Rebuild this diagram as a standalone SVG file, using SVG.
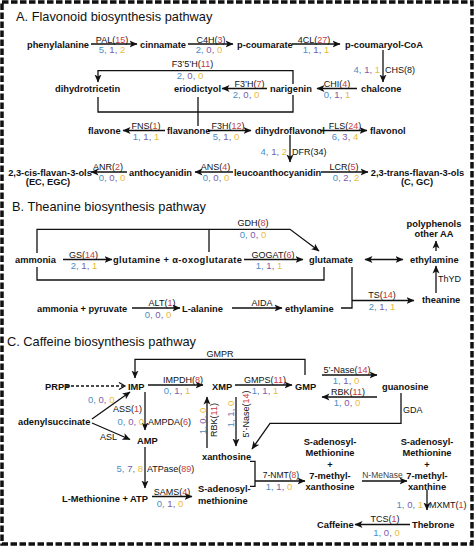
<svg xmlns="http://www.w3.org/2000/svg" width="474" height="548" viewBox="0 0 474 548">
<style>
text{font-family:"Liberation Sans",Arial,sans-serif;fill:#111}
.t{font-size:12.8px}
.n{font-size:9.3px;font-weight:bold}
.e{font-size:9px}
.c{font-size:9.5px}
.s{font-size:8.5px}
.g{fill:#444}
.m{text-anchor:middle}
.d{text-anchor:end}
.r{fill:#cc3a40}
.b{fill:#4a8fc4}
.p{fill:#7a5ca8}
.y{fill:#ebbb3a}
.ln{stroke:#111;stroke-width:1.3;fill:none}
.a{marker-end:url(#ah)}
</style>
<defs>
<marker id="ah" markerUnits="userSpaceOnUse" viewBox="0 0 9 8" markerWidth="9" markerHeight="8" refX="7.5" refY="4" orient="auto-start-reverse"><path d="M0,0.5 L8,4 L0,7.5 L2,4z" fill="#111"/></marker>
<marker id="oh" markerUnits="userSpaceOnUse" viewBox="0 0 9 9" markerWidth="9" markerHeight="9" refX="7" refY="4.5" orient="auto"><path d="M1,1 L7,4.5 L1,8" fill="none" stroke="#111" stroke-width="1.2"/></marker>
</defs>
<rect x="2" y="2" width="470" height="542" fill="#fff" stroke="#111" stroke-width="3.5" stroke-dasharray="6.5 2.5"/>

<text class="t" x="16" y="20.5">A. Flavonoid biosynthesis pathway</text>
<text class="t" x="12" y="211">B. Theanine biosynthesis pathway</text>
<text class="t" x="7" y="346">C. Caffeine biosynthesis pathway</text>

<g id="connectors">
<!-- A -->
<line class="ln a" x1="91" y1="44" x2="137" y2="44"/>
<line class="ln a" x1="188" y1="44" x2="233" y2="44"/>
<line class="ln a" x1="292" y1="44" x2="340" y2="44"/>
<line class="ln a" x1="383" y1="50" x2="383" y2="82"/>
<path class="ln a" d="M293,84 V70.7 H98 V82"/>
<line class="ln a" x1="267" y1="88.5" x2="222" y2="88.5"/>
<line class="ln a" x1="357" y1="88.5" x2="317" y2="88.5"/>
<path class="ln" d="M98,97 V112 H293 V95"/>
<line class="ln" x1="198" y1="97" x2="198" y2="126"/>
<line class="ln a" x1="165" y1="130.5" x2="123" y2="130.5"/>
<line class="ln a" x1="208" y1="130.5" x2="251" y2="130.5"/>
<line class="ln a" x1="320" y1="130.5" x2="367" y2="130.5"/>
<line class="ln a" x1="290" y1="135" x2="290" y2="162"/>
<line class="ln a" x1="127" y1="172" x2="91" y2="172"/>
<line class="ln a" x1="233" y1="172" x2="195" y2="172"/>
<line class="ln a" x1="321" y1="172" x2="368" y2="172"/>
<!-- B -->
<path class="ln a" d="M37,253 V229.3 H290 L319,251"/>
<line class="ln" x1="209" y1="229.3" x2="209" y2="252"/>
<path class="ln" d="M37,267 V280 H324 V267"/>
<line class="ln a" x1="63" y1="259.5" x2="112" y2="259.5"/>
<line class="ln a" x1="244" y1="259.5" x2="303" y2="259.5"/>
<line class="ln a" x1="365" y1="259.5" x2="403" y2="259.5" marker-start="url(#ah)"/>
<line class="ln a" x1="436" y1="251" x2="436" y2="241"/>
<line class="ln a" x1="436" y1="293" x2="436" y2="266"/>
<path class="ln" d="M352,267 V308 H341"/>
<line class="ln a" x1="352" y1="300.5" x2="414" y2="300.5"/>
<line class="ln a" x1="132" y1="308" x2="180" y2="308"/>
<line class="ln a" x1="232" y1="308" x2="282" y2="308"/>
<!-- C -->
<path class="ln a" d="M305,375 V359.3 H135 V378"/>
<line class="ln" x1="66" y1="386" x2="125" y2="386" stroke-dasharray="3 2" marker-end="url(#oh)"/>
<line class="ln a" x1="148" y1="385" x2="203" y2="385"/>
<line class="ln a" x1="235" y1="385" x2="292" y2="385"/>
<line class="ln a" x1="322" y1="375" x2="377" y2="375"/>
<line class="ln a" x1="377" y1="397" x2="322" y2="397"/>
<path class="ln a" d="M401,393 V423.3 H270 L252,449"/>
<line class="ln a" x1="92" y1="419" x2="130" y2="392"/>
<line class="ln a" x1="92" y1="423" x2="130" y2="439.5"/>
<line class="ln a" x1="145" y1="392" x2="145" y2="430"/>
<line class="ln a" x1="207" y1="448" x2="207" y2="397"/>
<line class="ln a" x1="236" y1="397" x2="236" y2="446"/>
<line class="ln a" x1="145" y1="447" x2="145" y2="488"/>
<line class="ln a" x1="152" y1="496.5" x2="192" y2="496.5"/>
<path class="ln" d="M250,461.3 H255 V486.3 H250"/>
<line class="ln a" x1="255" y1="481" x2="305" y2="481"/>
<line class="ln a" x1="362" y1="481" x2="407" y2="481"/>
<line class="ln a" x1="427" y1="490" x2="427" y2="510"/>
<line class="ln a" x1="410" y1="524.5" x2="355" y2="524.5"/>
</g>

<g id="labels">
<!-- A -->
<text class="e m" x="112" y="42.5">PAL(<tspan class="r">15</tspan>)</text>
<text class="c m" x="112" y="53"><tspan class="b">5,</tspan><tspan class="p"> 1,</tspan><tspan class="y"> 2</tspan></text>
<text class="e m" x="211" y="42.5">C4H(<tspan class="r">3</tspan>)</text>
<text class="c m" x="209" y="53"><tspan class="b">2,</tspan><tspan class="p"> 0,</tspan><tspan class="y"> 0</tspan></text>
<text class="e m" x="314" y="42.5">4CL(<tspan class="r">27</tspan>)</text>
<text class="c m" x="316" y="53"><tspan class="b">1,</tspan><tspan class="p"> 1,</tspan><tspan class="y"> 1</tspan></text>
<text class="c d" x="380" y="72.5"><tspan class="b">4,</tspan><tspan class="p"> 1,</tspan><tspan class="y"> 1</tspan></text>
<text class="e" x="385" y="72.5">CHS(8)</text>
<text class="e m" x="192.5" y="67">F3’5’H(<tspan class="r">11</tspan>)</text>
<text class="c m" x="190" y="79"><tspan class="b">2,</tspan><tspan class="p"> 0,</tspan><tspan class="y"> 0</tspan></text>
<text class="e m" x="249.5" y="86.5">F3’H(<tspan class="r">7</tspan>)</text>
<text class="c m" x="246" y="97.5"><tspan class="b">2,</tspan><tspan class="p"> 0,</tspan><tspan class="y"> 0</tspan></text>
<text class="e m" x="337" y="86.5">CHI(<tspan class="r">4</tspan>)</text>
<text class="c m" x="337" y="97.5"><tspan class="b">0,</tspan><tspan class="p"> 1,</tspan><tspan class="y"> 1</tspan></text>
<text class="e m" x="146" y="128.5">FNS(<tspan class="r">1</tspan>)</text>
<text class="c m" x="146" y="139.5"><tspan class="b">1,</tspan><tspan class="p"> 1,</tspan><tspan class="y"> 1</tspan></text>
<text class="e m" x="228" y="128.5">F3H(<tspan class="r">12</tspan>)</text>
<text class="c m" x="226" y="139.5"><tspan class="b">5,</tspan><tspan class="p"> 1,</tspan><tspan class="y"> 0</tspan></text>
<text class="e m" x="345" y="128.5">FLS(<tspan class="r">24</tspan>)</text>
<text class="c m" x="345" y="139.5"><tspan class="b">6,</tspan><tspan class="p"> 3,</tspan><tspan class="y"> 4</tspan></text>
<text class="c d" x="287" y="154.5"><tspan class="b">4,</tspan><tspan class="p"> 1,</tspan><tspan class="y"> 2</tspan></text>
<text class="e" x="292" y="154.5">DFR(34)</text>
<text class="e m" x="108" y="170">ANR(<tspan class="r">2</tspan>)</text>
<text class="c m" x="112" y="181"><tspan class="b">0,</tspan><tspan class="p"> 0,</tspan><tspan class="y"> 0</tspan></text>
<text class="e m" x="215.5" y="170">ANS(<tspan class="r">4</tspan>)</text>
<text class="c m" x="216" y="181"><tspan class="b">0,</tspan><tspan class="p"> 0,</tspan><tspan class="y"> 0</tspan></text>
<text class="e m" x="344" y="170">LCR(<tspan class="r">5</tspan>)</text>
<text class="c m" x="346" y="181"><tspan class="b">0,</tspan><tspan class="p"> 2,</tspan><tspan class="y"> 2</tspan></text>
<!-- B -->
<text class="e m" x="253" y="226">GDH(<tspan class="r">8</tspan>)</text>
<text class="c m" x="253" y="237.5"><tspan class="b">0,</tspan><tspan class="p"> 0,</tspan><tspan class="y"> 0</tspan></text>
<text class="e m" x="83.5" y="257.5">GS(<tspan class="r">14</tspan>)</text>
<text class="c m" x="84" y="269"><tspan class="b">2,</tspan><tspan class="p"> 1,</tspan><tspan class="y"> 1</tspan></text>
<text class="e m" x="273" y="257.5">GOGAT(<tspan class="r">6</tspan>)</text>
<text class="c m" x="269" y="269"><tspan class="b">1,</tspan><tspan class="p"> 1,</tspan><tspan class="y"> 1</tspan></text>
<text class="e" x="438" y="282">ThYD</text>
<text class="e m" x="382" y="297.5">TS(<tspan class="r">14</tspan>)</text>
<text class="c m" x="382" y="309.5"><tspan class="b">2,</tspan><tspan class="p"> 1,</tspan><tspan class="y"> 1</tspan></text>
<text class="e m" x="162" y="306">ALT(<tspan class="r">1</tspan>)</text>
<text class="c m" x="158" y="317.5"><tspan class="b">0,</tspan><tspan class="p"> 0,</tspan><tspan class="y"> 0</tspan></text>
<text class="e m" x="262" y="306">AIDA</text>
<!-- C -->
<text class="e m" x="220" y="356.5">GMPR</text>
<text class="e m" x="183" y="382.5">IMPDH(<tspan class="r">8</tspan>)</text>
<text class="c m" x="177" y="394"><tspan class="b">0,</tspan><tspan class="p"> 1,</tspan><tspan class="y"> 1</tspan></text>
<text class="e m" x="265" y="382.5">GMPS(<tspan class="r">11</tspan>)</text>
<text class="c m" x="265" y="394"><tspan class="b">1,</tspan><tspan class="p"> 1,</tspan><tspan class="y"> 1</tspan></text>
<text class="e m" x="347" y="372.5">5’-Nase(<tspan class="r">14</tspan>)</text>
<text class="c m" x="346" y="384"><tspan class="b">1,</tspan><tspan class="p"> 1,</tspan><tspan class="y"> 0</tspan></text>
<text class="e m" x="348" y="394.5">RBK(<tspan class="r">11</tspan>)</text>
<text class="c m" x="347" y="405.5"><tspan class="b">1,</tspan><tspan class="p"> 0,</tspan><tspan class="y"> 0</tspan></text>
<text class="e" x="403" y="412.5">GDA</text>
<text class="c" x="88" y="403"><tspan class="b">0,</tspan><tspan class="p"> 0,</tspan><tspan class="y"> 0</tspan></text>
<text class="e" x="113" y="412">ASS(<tspan class="r">1</tspan>)</text>
<text class="e" x="100" y="440">ASL</text>
<text class="c d" x="144" y="425"><tspan class="b">0,</tspan><tspan class="p"> 0,</tspan><tspan class="y"> 0</tspan></text>
<text class="e" x="148" y="425">AMPDA(<tspan class="r">6</tspan>)</text>
<text class="c m" transform="translate(205.5,421) rotate(-90)"><tspan class="b">1,</tspan><tspan class="p"> 0,</tspan><tspan class="y"> 0</tspan></text>
<text class="e m" transform="translate(216.5,420) rotate(-90)">RBK(<tspan class="r">11</tspan>)</text>
<text class="c m" transform="translate(234,414) rotate(-90)"><tspan class="b">1,</tspan><tspan class="p"> 1,</tspan><tspan class="y"> 0</tspan></text>
<text class="e m" transform="translate(248.5,414) rotate(-90)">5’-Nase(<tspan class="r">14</tspan>)</text>
<text class="c d" x="143" y="472"><tspan class="b">5,</tspan><tspan class="p"> 7,</tspan><tspan class="y"> 8</tspan></text>
<text class="e" x="147" y="472">ATPase(<tspan class="r">89</tspan>)</text>
<text class="e m" x="172" y="494.5">SAMS(<tspan class="r">4</tspan>)</text>
<text class="c m" x="170" y="507"><tspan class="b">0,</tspan><tspan class="p"> 1,</tspan><tspan class="y"> 0</tspan></text>
<text class="s m" x="281" y="478">7-NMT(<tspan class="r">8</tspan>)</text>
<text class="c m" x="279" y="489.5"><tspan class="b">1,</tspan><tspan class="p"> 1,</tspan><tspan class="y"> 0</tspan></text>
<text class="s m g" x="382.5" y="478">N-MeNase</text>
<text class="c d" x="423" y="508"><tspan class="b">1,</tspan><tspan class="p"> 0,</tspan><tspan class="y"> 1</tspan></text>
<text class="e" x="429" y="508">MXMT(<tspan class="r">1</tspan>)</text>
<text class="e m" x="385" y="522">TCS(<tspan class="r">1</tspan>)</text>
<text class="c m" x="386.5" y="535.5"><tspan class="b">1,</tspan><tspan class="p"> 0,</tspan><tspan class="y"> 0</tspan></text>
</g>

<g id="phenylalanine"><text class="n" x="27" y="47.5">phenylalanine</text></g>
<g id="cinnamate"><text class="n" x="140" y="47.5">cinnamate</text></g>
<g id="p-coumarate"><text class="n" x="237" y="47.5">p-coumarate</text></g>
<g id="p-coumaryol-CoA"><text class="n" x="345" y="47.5">p-coumaryol-CoA</text></g>
<g id="dihydrotricetin"><text class="n" x="55" y="92">dihydrotricetin</text></g>
<g id="eriodictyol"><text class="n" x="174" y="92">eriodictyol</text></g>
<g id="narigenin"><text class="n" x="270" y="92">narigenin</text></g>
<g id="chalcone"><text class="n" x="361" y="92">chalcone</text></g>
<g id="flavone"><text class="n" x="88" y="134">flavone</text></g>
<g id="flavanone"><text class="n" x="167" y="134">flavanone</text></g>
<g id="dihydroflavonol"><text class="n" x="255" y="134">dihydroflavonol</text></g>
<g id="flavonol"><text class="n" x="370" y="134">flavonol</text></g>
<g id="cis-flavan"><text class="n m" x="50" y="175.5">2,3-cis-flavan-3-ols</text><text class="n m" x="48" y="185">(EC, EGC)</text></g>
<g id="anthocyanidin"><text class="n" x="129" y="175.5">anthocyanidin</text></g>
<g id="leucoanthocyanidin"><text class="n" x="234" y="175.5">leucoanthocyanidin</text></g>
<g id="trans-flavan"><text class="n m" x="417.5" y="175.5">2,3-trans-flavan-3-ols</text><text class="n m" x="417" y="185">(C, GC)</text></g>

<g id="ammonia"><text class="n" x="15" y="263">ammonia</text></g>
<g id="glutamine"><text class="n" x="113" y="263" textLength="129">glutamine + α-oxoglutarate</text></g>
<g id="glutamate"><text class="n" x="309" y="263">glutamate</text></g>
<g id="ethylamine-r"><text class="n" x="410" y="263">ethylamine</text></g>
<g id="polyphenols"><text class="n m" x="434" y="227">polyphenols</text><text class="n m" x="434" y="237">other AA</text></g>
<g id="theanine"><text class="n" x="422" y="303">theanine</text></g>
<g id="ammonia-pyruvate"><text class="n" x="37" y="311.5">ammonia + pyruvate</text></g>
<g id="L-alanine"><text class="n" x="182" y="311.5">L-alanine</text></g>
<g id="ethylamine-m"><text class="n" x="285" y="311.5">ethylamine</text></g>

<g id="PRPP"><text class="n" x="45" y="389.5">PRPP</text></g>
<g id="IMP"><text class="n" x="128" y="389.5">IMP</text></g>
<g id="XMP"><text class="n" x="212" y="389.5">XMP</text></g>
<g id="GMP"><text class="n" x="295" y="389.5">GMP</text></g>
<g id="guanosine"><text class="n" x="382" y="389.5">guanosine</text></g>
<g id="adenylsuccinate"><text class="n" x="18" y="424.5">adenylsuccinate</text></g>
<g id="AMP"><text class="n" x="137" y="443.5">AMP</text></g>
<g id="xanthosine"><text class="n" x="202" y="460">xanthosine</text></g>
<g id="L-Methionine-ATP"><text class="n" x="62" y="501.5">L-Methionine + ATP</text></g>
<g id="S-adenosyl-methionine"><text class="n" x="198" y="492">S-adenosyl-</text><text class="n" x="198" y="504">methionine</text></g>
<g id="SAM-7-methylxanthosine"><text class="n m" x="330" y="445">S-adenosyl-</text><text class="n m" x="330" y="456.3">Methionine</text><text class="n m" x="330" y="467.6">+</text><text class="n m" x="330" y="478.9">7-methyl-</text><text class="n m" x="330" y="490.2">xanthosine</text></g>
<g id="SAM-7-methylxanthine"><text class="n m" x="427" y="445">S-adenosyl-</text><text class="n m" x="427" y="456.3">Methionine</text><text class="n m" x="427" y="467.6">+</text><text class="n m" x="427" y="478.9">7-methyl-</text><text class="n m" x="427" y="490.2">xanthine</text></g>
<g id="Thebrone"><text class="n" x="412" y="528">Thebrone</text></g>
<g id="Caffeine"><text class="n" x="317" y="528">Caffeine</text></g>
</svg>
